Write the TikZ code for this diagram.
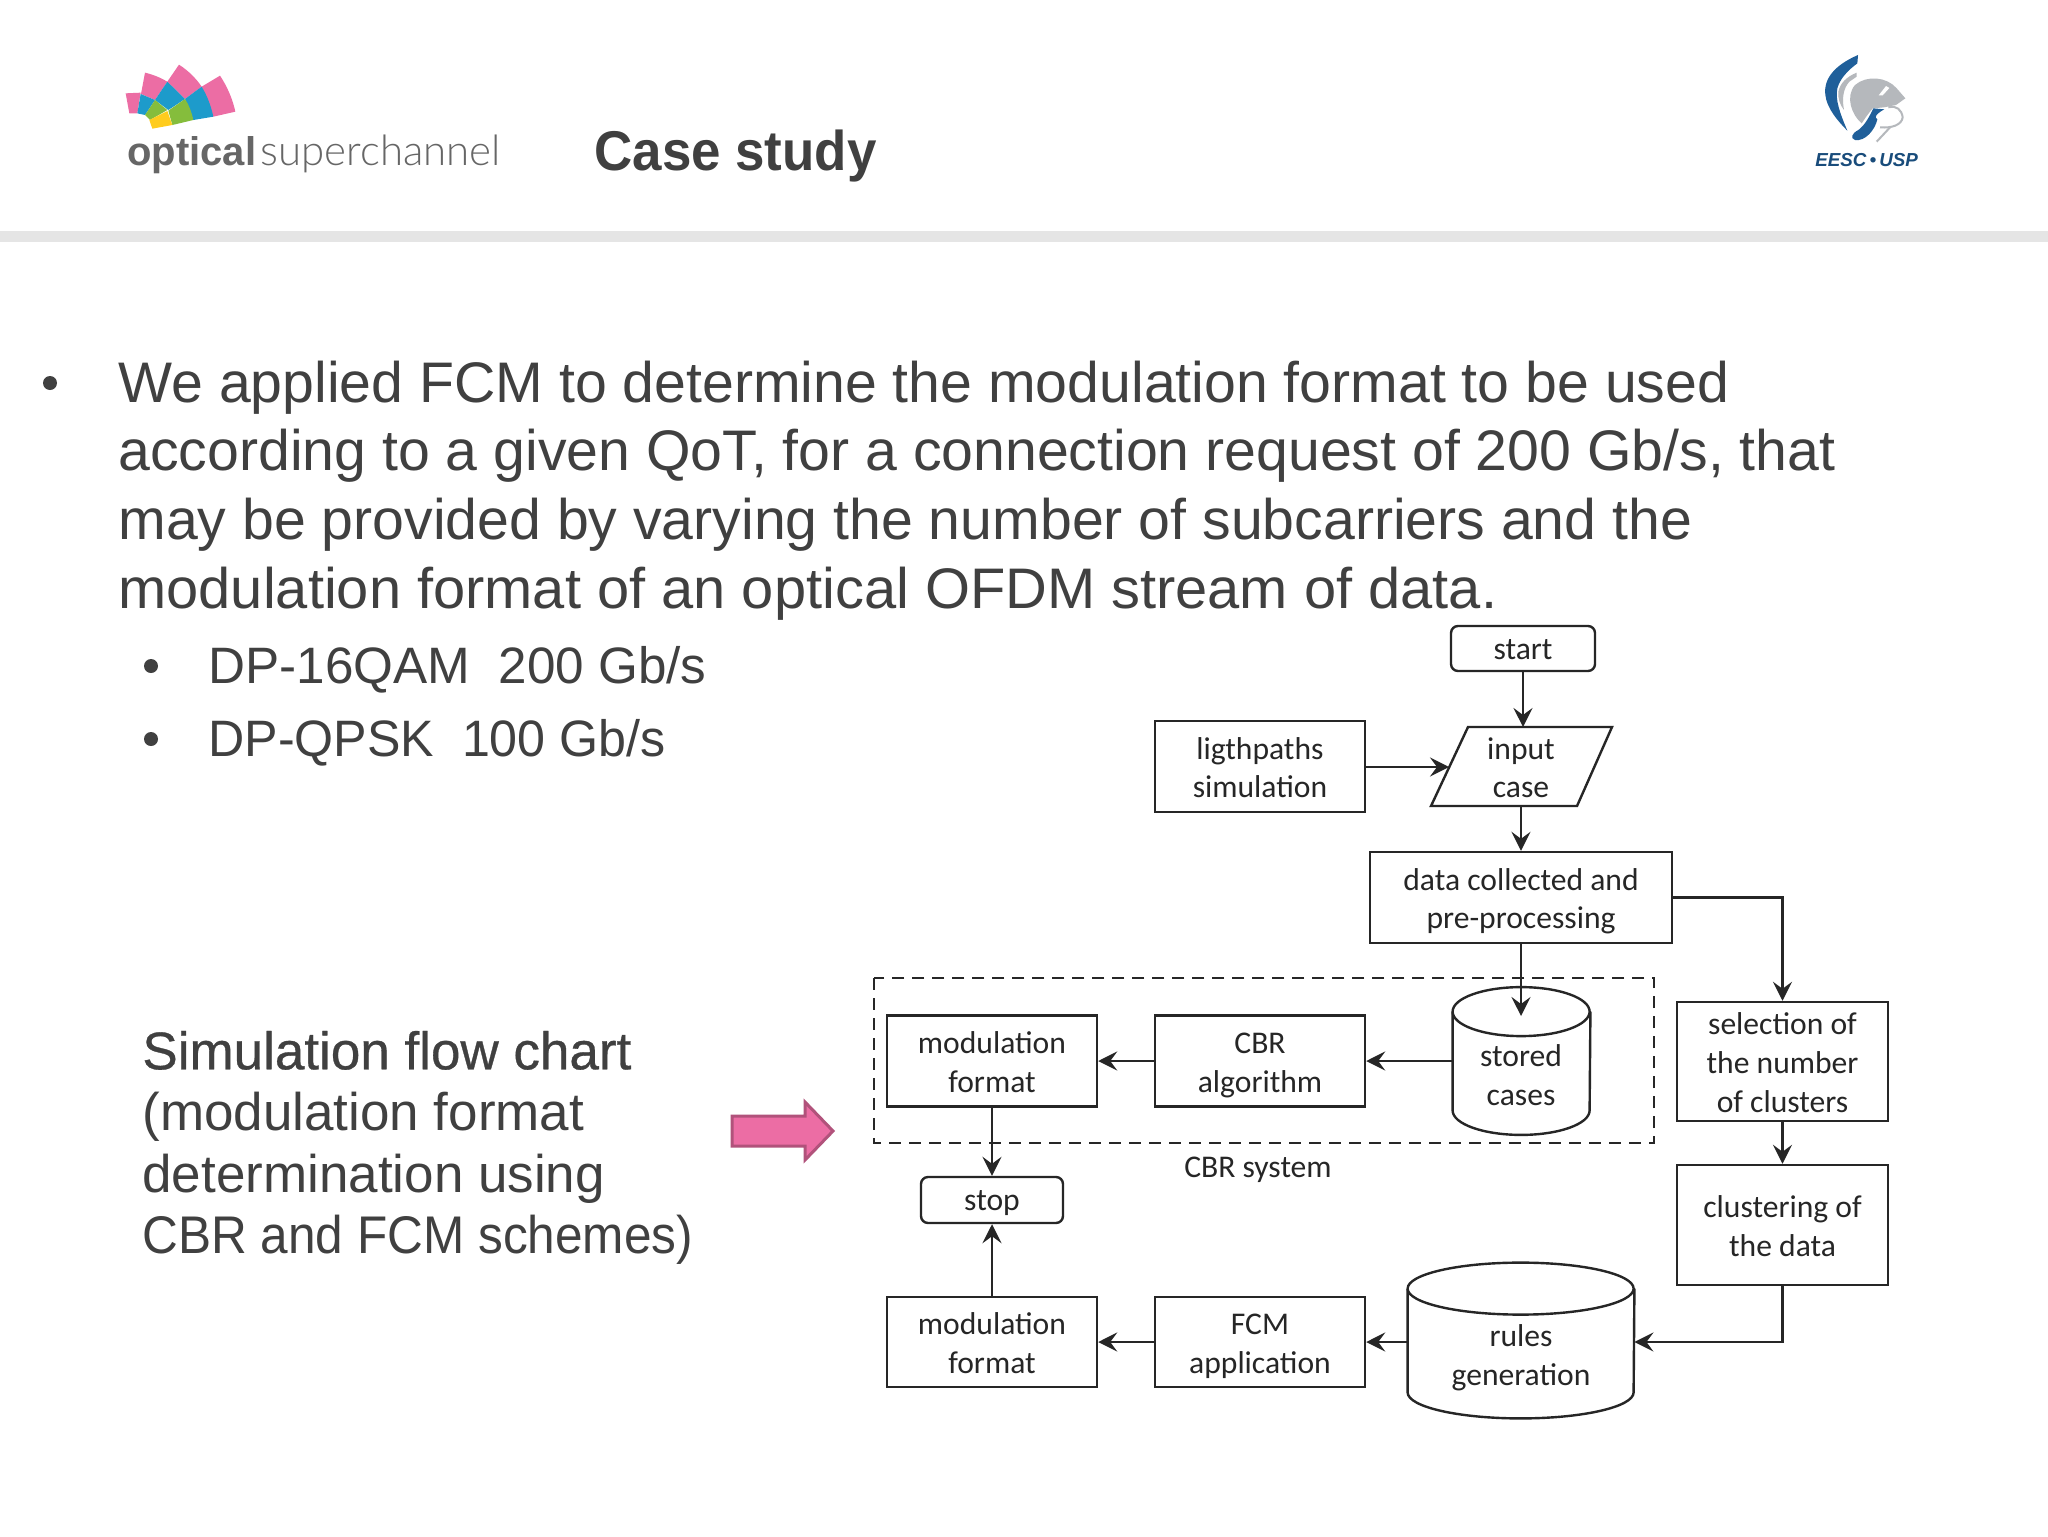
\documentclass[tikz,border=0pt]{standalone}
\usepackage{fontspec}
\usetikzlibrary{arrows.meta,shapes.geometric,calc}
\setmainfont{Liberation Sans}
\newfontfamily\carl{Carlito}
\newfontfamily\lat{Lato Light}
\definecolor{txt}{HTML}{404040}
\definecolor{ln}{HTML}{262626}
\definecolor{pk}{HTML}{EC6DA4}
\definecolor{bl}{HTML}{1D9BCB}
\definecolor{gr}{HTML}{85BD3C}
\definecolor{yl}{HTML}{FFCC1E}
\definecolor{uspb}{HTML}{1F5F9A}
\definecolor{uspg}{HTML}{B5B8BC}
\newcommand{\botstrut}{\rule[-3.5pt]{0pt}{3.5pt}}
\newcommand{\tl}{\rule{0pt}{15.5pt}}
\newcommand{\ts}{\rule{0pt}{14pt}}
\tikzset{
  fctext/.style={inner sep=0pt,align=center,font=\carl\fontsize{15.8}{19.3}\selectfont,text=ln,
    execute at end node=\botstrut},
  fc/.style={draw=ln,line width=1.2pt,fctext},
  fcr/.style={fc,rounded corners=3.5pt},
  bare/.style={fctext},
  conn/.style={draw=ln,line width=1.2pt,-{Stealth[length=9.5pt,width=9.5pt,inset=3.5pt]}},
  body/.style={inner sep=0pt,anchor=base west,align=left,text=txt,font=\fontsize{28.6}{34.3}\selectfont},
  sub/.style={inner sep=0pt,anchor=base west,text=txt,font=\fontsize{25.6}{30}\selectfont},
  dot/.style={circle,fill=txt,inner sep=0pt,minimum size=7pt},
}
\begin{document}
\begin{tikzpicture}[x=0.5pt,y=-0.5pt]
\useasboundingbox (0,0) rectangle (2048,1536);
\fill[white] (0,0) rectangle (2048,1536);
\fill[black!10] (0,231) rectangle (2048,242);
% logo
\begin{scope}[shift={(80,30)},x=0.16667pt,y=-0.16667pt]
\fill[pk] (137,190) -- (182,188) -- (172,250) -- (148,250) -- cycle;
\fill[pk] (195,128) .. controls (220,134) and (242,143) .. (262,155) -- (225,210) -- (183,192) -- cycle;
\fill[pk] (297,104) .. controls (325,122) and (348,145) .. (365,170) -- (315,207) -- (262,155) -- cycle;
\fill[pk] (420,137) .. controls (442,170) and (458,208) .. (466,245) -- (400,260) -- (365,170) -- cycle;
\fill[bl] (182,192) -- (225,210) -- (195,255) -- (172,250) -- cycle;
\fill[bl] (262,155) -- (315,207) -- (265,240) -- (225,210) -- cycle;
\fill[bl] (365,170) .. controls (382,198) and (393,228) .. (400,260) -- (340,270) -- (315,207) -- cycle;
\fill[gr] (225,210) -- (262,240) -- (210,270) -- (195,255) -- cycle;
\fill[gr] (315,207) .. controls (328,226) and (335,248) .. (340,270) -- (277,285) -- (265,242) -- cycle;
\fill[yl] (262,243) -- (277,285) -- (217,296) -- (208,270) -- cycle;
\end{scope}
\node[inner sep=0pt,anchor=base west,text=black!60,font=\bfseries\fontsize{20}{24}\selectfont] (lg1) at (127,165) {optical};
\node[inner sep=0pt,anchor=base west,text=black!60,font=\lat\fontsize{21}{24}\selectfont] (lg2) at (260,165) {superchannel};
% EESC logo
\begin{scope}[shift={(1760,30)},x=0.16667pt,y=-0.16667pt]
\fill[uspb] (294,75) .. controls (225,105) and (190,145) .. (196,195) .. controls (200,235) and (235,275) .. (262,302) .. controls (240,250) and (225,210) .. (232,175) .. controls (240,145) and (265,120) .. (292,100) -- cycle;
\fill[uspg] (290,128) .. controls (260,140) and (240,160) .. (235,185) .. controls (233,205) and (240,225) .. (252,240) .. controls (245,205) and (250,175) .. (268,155) -- (290,140) -- cycle;
\fill[uspg] (285,165) .. controls (320,135) and (380,140) .. (410,175) -- (436,205) -- (408,225) -- (372,232) -- (338,235) .. controls (325,250) and (315,265) .. (305,280) .. controls (275,255) and (255,200) .. (285,165) -- cycle;
\fill[white] (356,196) -- (378,168) -- (388,174) -- (368,196) -- cycle;
\fill[uspb] (340,235) -- (373,238) .. controls (350,250) and (340,262) .. (352,268) .. controls (345,300) and (315,335) .. (285,330) .. controls (270,325) and (275,310) .. (295,300) .. controls (315,285) and (328,260) .. (340,235) -- cycle;
\draw[uspg,line width=1pt] (385,232) .. controls (410,225) and (425,240) .. (428,262) .. controls (425,285) and (395,295) .. (360,292);
\draw[uspg,line width=1pt] (392,290) -- (350,335);
\node[inner sep=0pt,text=uspb!80!black,font=\bfseries\itshape\fontsize{9.4}{11}\selectfont] (usp) at (320,390) {EESC\,\textbullet\,USP};
\end{scope}
% title
\node[inner sep=0pt,anchor=base west,text=txt,font=\bfseries\fontsize{28}{30}\selectfont\addfontfeature{FakeStretch=0.945}] (title) at (594,170) {Case study};
% text
\node[dot] (b1) at (50,383) {};
\node[body] (para) at (118,608) {We applied FCM to determine the modulation format to be used\\according to a given QoT, for a connection request of 200 Gb/s, that\\may be provided by varying the number of subcarriers and the\\{\addfontfeature{FakeStretch=1.011}modulation format of an optical OFDM stream of data.}};
\node[dot] (b2) at (151,666) {};
\node[sub] (s1) at (208,683) {DP-16QAM\ \ 200 Gb/s};
\node[dot] (b3) at (151,739) {};
\node[sub,font=\fontsize{25.6}{30}\selectfont\addfontfeature{FakeStretch=0.98}] (s2) at (208,756) {DP-QPSK\ \ 100 Gb/s};
\node[body,font=\fontsize{26.5}{30.7}\selectfont] (left) at (142,1253.5) {{\addfontfeature{FakeBold=0.6}Simulation flow chart}\\(modulation format\\determination using\\{\addfontfeature{FakeStretch=0.935}CBR and FCM schemes)}};
% pink arrow
\fill[pk,draw=pk!75!black,line width=1.5pt] (732,1116) -- (805,1116) -- (805,1102) -- (833,1131) -- (805,1160) -- (805,1146) -- (732,1146) -- cycle;
% dashed
\draw[ln,line width=1.2pt,dash pattern=on 6pt off 4pt] (874,978) rectangle (1654,1143);
% boxes
\node[fcr,minimum width=72pt,minimum height=22.5pt] (start) at (1523,648.5) {\ts start};
\node[fc,minimum width=105pt,minimum height=45.5pt] (light) at (1260,766.5) {\tl ligthpaths\\simulation};
\node[minimum width=64pt,minimum height=40pt,bare] (input) at (1521,766.5) {\tl input\\case};
\draw[ln,line width=1.2pt,line join=miter] (1468,727) -- (1612,727) -- (1577,806) -- (1431,806) -- cycle;
\node[fc,minimum width=151pt,minimum height=45.5pt] (data) at (1521,897.5) {\tl data collected and\\pre-processing};
\node[fc,minimum width=105pt,minimum height=45.5pt] (alg) at (1260,1061) {\tl CBR\\algorithm};
\node[fc,minimum width=105pt,minimum height=45.5pt] (mod1) at (992,1061) {\tl modulation\\format};
\node[fcr,minimum width=71pt,minimum height=23pt] (stop) at (992,1200) {\ts stop};
\node[fc,minimum width=105pt,minimum height=45pt] (mod2) at (992,1342) {\tl modulation\\format};
\node[fc,minimum width=105pt,minimum height=45pt] (fcm) at (1260,1342) {\tl FCM\\application};
\node[fc,minimum width=105.5pt,minimum height=59.5pt] (sel) at (1782.5,1061.5) {\tl selection of\\the number\\of clusters};
\node[fc,minimum width=105.5pt,minimum height=60pt] (clu) at (1782.5,1225) {\tl clustering of\\the data};
\node[bare,minimum width=68.5pt,minimum height=73.5pt] (stored) at (1521.5,1061) {};
\node[bare] (storedt) at (1521,1074) {\tl stored\\cases};
\draw[ln,line width=1.2pt] ($(stored.north west)+(0,24.5)$) arc[start angle=180,end angle=-180,x radius=68.5,y radius=24.5];
\draw[ln,line width=1.2pt] ($(stored.north west)+(0,24.5)$) -- ($(stored.south west)+(0,-24.5)$) arc[start angle=180,end angle=360,x radius=68.5,y radius=-24.5] -- ($(stored.north east)+(0,24.5)$);
\node[bare,minimum width=113pt,minimum height=77.5pt] (rules) at (1521,1340.5) {};
\node[bare] (rulest) at (1521,1354) {\tl rules\\generation};
\draw[ln,line width=1.2pt] ($(rules.north west)+(0,26)$) arc[start angle=180,end angle=-180,x radius=113,y radius=26];
\draw[ln,line width=1.2pt] ($(rules.north west)+(0,26)$) -- ($(rules.south west)+(0,-26)$) arc[start angle=180,end angle=360,x radius=113,y radius=-26] -- ($(rules.north east)+(0,26)$);
\node[bare] (sys) at (1258,1167) {\ts CBR system};
% connectors
\coordinate (instored) at (1521,1016);
\coordinate (inputtop) at (1523,727);
\coordinate (inputleft) at (1449,767);
\coordinate (inputbot) at (1521,806);
\draw[conn] (start.south) -- (inputtop);
\draw[conn] (light.east |- inputleft) -- (inputleft);
\draw[conn] (inputbot) -- (data.north);
\draw[conn] (data.south) -- (instored);
\draw[conn] (data.east) -| (sel.north);
\draw[conn] (stored.west) -- (alg.east);
\draw[conn] (alg.west) -- (mod1.east);
\draw[conn] (mod1.south) -- (stop.north);
\draw[conn] (mod2.north) -- (stop.south);
\draw[conn] (sel.south) -- (clu.north);
\draw[conn] (clu.south) |- (rules.east |- fcm.east);
\draw[conn] (rules.west |- fcm.east) -- (fcm.east);
\draw[conn] (fcm.west) -- (mod2.east);
\end{tikzpicture}
\end{document}
